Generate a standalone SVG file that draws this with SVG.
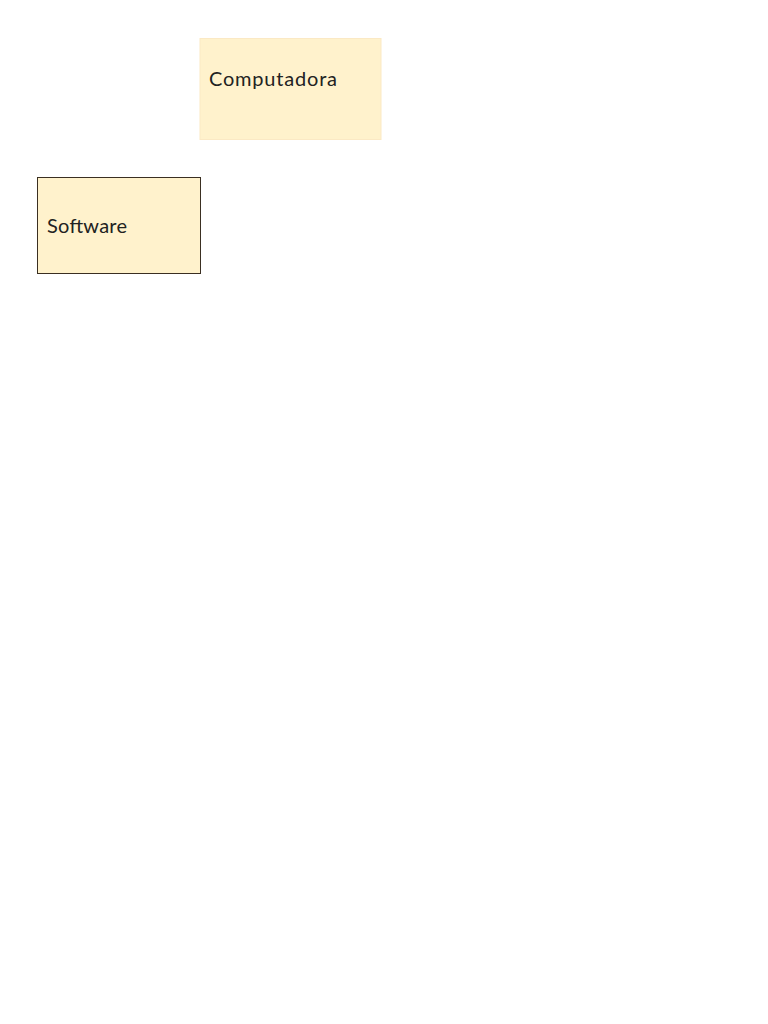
<svg xmlns="http://www.w3.org/2000/svg" width="768" height="1024" viewBox="0 0 768 1024">
<style>
.lbl{font-family:"Lato","Noto Sans",sans-serif;font-size:20px;fill:#222;}
</style>
<rect width="768" height="1024" fill="#ffffff"/>
<g id="node-computadora">
<rect x="200" y="38.500" width="181" height="101" fill="#FFF2CC" stroke="#FBE9C4" stroke-width="1"/>
<text class="lbl" x="209" y="86" textLength="128" lengthAdjust="spacing">Computadora</text>
</g>
<g id="node-software">
<rect x="37.500" y="177.500" width="163" height="96" fill="#FFF2CC" stroke="#3a2f22" stroke-width="1"/>
<text class="lbl" x="47" y="233" textLength="80" lengthAdjust="spacing">Software</text>
</g>
<g id="connectors"></g>
</svg>
